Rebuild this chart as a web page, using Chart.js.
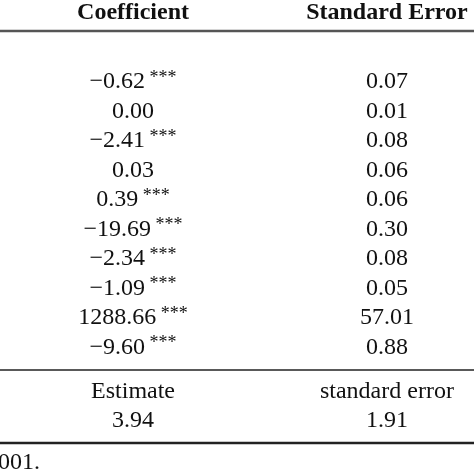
<!DOCTYPE html>
<html>
<head>
<meta charset="utf-8">
<script src="https://cdn.jsdelivr.net/npm/chart.js@4"></script>
<style>
  html, body { margin: 0; padding: 0; background: #fff; }
  #wrap { width: 474px; height: 474px; }
</style>
</head>
<body>
<div id="wrap"><canvas id="c"></canvas></div>
<script>
// table data
const headers = ['Coefficient', 'Standard Error'];
const coefficients = ['\u22120.62', '0.00', '\u22122.41', '0.03', '0.39', '\u221219.69', '\u22122.34', '\u22121.09', '1288.66', '\u22129.60'];
const stars = ['***', '', '***', '', '***', '***', '***', '***', '***', '***'];
const stdErrors = ['0.07', '0.01', '0.08', '0.06', '0.06', '0.30', '0.08', '0.05', '57.01', '0.88'];
const bottomHeaders = ['Estimate', 'standard error'];
const bottomValues = ['3.94', '1.91'];
const footnote = '001.';

const FONT = '"Liberation Serif", "DejaVu Serif", serif';

// draw the table through the chart scales (x = column, y = row)
const tablePlugin = {
  id: 'table',
  afterDraw(chart) {
    const ctx = chart.ctx;
    const xs = chart.scales.x, ys = chart.scales.y;
    const X = v => xs.getPixelForValue(v);
    const Y = v => ys.getPixelForValue(v);
    ctx.save();
    ctx.fillStyle = '#111';
    ctx.textBaseline = 'middle';
    ctx.textAlign = 'center';

    ctx.font = 'bold 24px ' + FONT;
    headers.forEach((h, i) => ctx.fillText(h, X(i), Y(-2.36)));

    const hline = (r, w, col) => {
      ctx.strokeStyle = col; ctx.lineWidth = w;
      ctx.beginPath(); ctx.moveTo(0, Y(r)); ctx.lineTo(chart.width, Y(r)); ctx.stroke();
    };
    hline(-1.725, 2.5, '#555');

    coefficients.forEach((c, i) => {
      ctx.font = '24px ' + FONT;
      const w = ctx.measureText(c).width;
      let sw = 0;
      if (stars[i]) { ctx.font = '18px ' + FONT; sw = ctx.measureText(' ' + stars[i]).width; }
      const x0 = X(0) - (w + sw) / 2;
      ctx.textAlign = 'left';
      ctx.font = '24px ' + FONT;
      ctx.fillText(c, x0, Y(i));
      if (stars[i]) { ctx.font = '18px ' + FONT; ctx.fillText(' ' + stars[i], x0 + w, Y(i) - 4); }
      ctx.textAlign = 'center';
      ctx.font = '24px ' + FONT;
      ctx.fillText(stdErrors[i], X(1), Y(i));
    });

    hline(9.76, 1.5, '#222');
    ctx.font = '24px ' + FONT;
    bottomHeaders.forEach((h, i) => ctx.fillText(h, X(i), Y(10.5)));
    bottomValues.forEach((v, i) => ctx.fillText(v, X(i), Y(11.5)));
    hline(12.24, 2.5, '#222');

    ctx.textAlign = 'left';
    ctx.fillText(footnote, -2, Y(12.9));
    ctx.restore();
  }
};

new Chart(document.getElementById('c'), {
  type: 'scatter',
  data: {
    datasets: [{
      data: coefficients.map((c, i) => ({ x: 0, y: i })),
      pointRadius: 0
    }]
  },
  options: {
    responsive: true,
    maintainAspectRatio: false,
    animation: false,
    layout: { padding: 0 },
    scales: {
      x: { display: false, min: -0.524, max: 1.343 },
      y: { display: false, reverse: true, min: -2.78, max: 13.29 }
    },
    plugins: { legend: { display: false }, tooltip: { enabled: false } }
  },
  plugins: [tablePlugin]
});
</script>
</body>
</html>
